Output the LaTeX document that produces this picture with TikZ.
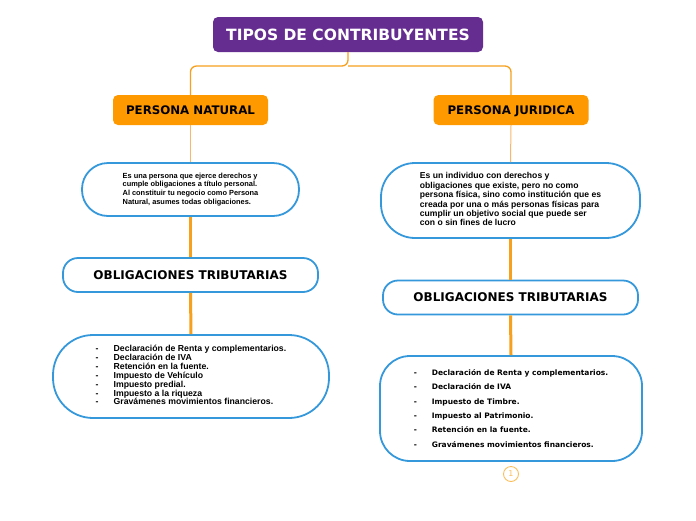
\documentclass[tikz,border=0pt]{standalone}
\usepackage{fontspec}
\setmainfont{Liberation Sans}
\newfontfamily\verd{DejaVu Sans}
\newfontfamily\ari{Liberation Sans}
\definecolor{titlepurple}{RGB}{102,45,145}
\definecolor{boxorange}{RGB}{255,153,0}
\definecolor{lineorange}{RGB}{247,160,30}
\definecolor{thinorange}{RGB}{245,185,110}
\definecolor{boxblue}{RGB}{52,152,219}
\definecolor{numorange}{RGB}{250,190,90}
\tikzset{
  titlebox/.style={fill=titlepurple, rounded corners=5pt, minimum width=270pt, minimum height=35pt, text=white, font=\verd\bfseries\fontsize{15.5}{18}\selectfont, inner sep=0pt, text height=11.4pt, text depth=0pt},
  typebox/.style={fill=boxorange, rounded corners=5pt, minimum width=155pt, minimum height=30pt, text=black, font=\verd\bfseries\fontsize{11.8}{14}\selectfont, inner sep=0pt, text height=8.7pt, text depth=0pt},
  obligbox/.style={draw=boxblue, line width=1.8pt, fill=white, rounded corners=15pt, minimum width=255pt, minimum height=34pt, font=\verd\bfseries\fontsize{12}{14}\selectfont, inner sep=0pt, text height=8.8pt, text depth=0pt},
  pill/.style={draw=boxblue, line width=1.8pt, fill=white, inner sep=0pt},
  thinline/.style={draw=thinorange, line width=1pt},
  thickline/.style={draw=lineorange, line width=3pt},
  branch/.style={draw=lineorange, line width=1.3pt, rounded corners=6pt}
}
\begin{document}
\begin{tikzpicture}[x=1pt,y=-1pt]
\useasboundingbox (0,0) rectangle (696,520);

\node[titlebox] (title) at (348,34.5) {TIPOS DE CONTRIBUYENTES};
\node[typebox] (pn) at (190.5,110) {PERSONA NATURAL};
\node[typebox] (pj) at (511,110) {PERSONA JURIDICA};

\node[pill, rounded corners=26pt, minimum width=217pt, minimum height=53pt] (d1) at (190.5,189.5)
  {\ari\bfseries\fontsize{7.4}{8.7}\selectfont\begin{tabular}{@{}l@{}}
  Es una persona que ejerce derechos y\\
  cumple obligaciones a título personal.\\
  Al constituir tu negocio como Persona\\
  Natural, asumes todas obligaciones.
  \end{tabular}};

\node[pill, rounded corners=34pt, minimum width=259pt, minimum height=75pt] (d2) at (510.5,200.5)
  {\ari\bfseries\fontsize{8.6}{9.4}\selectfont\begin{tabular}{@{}l@{}}
  Es un individuo con derechos y\\
  obligaciones que existe, pero no como\\
  persona física, sino como institución que es\\
  creada por una o más personas físicas para\\
  cumplir un objetivo social que puede ser\\
  con o sin fines de lucro
  \end{tabular}};

\node[obligbox] (o1) at (190.5,275) {OBLIGACIONES TRIBUTARIAS};
\node[obligbox] (o2) at (510.5,297.5) {OBLIGACIONES TRIBUTARIAS};

\node[pill, rounded corners=40pt, minimum width=276pt, minimum height=83pt] (l1) at (191,376.5)
  {\ari\bfseries\fontsize{8.7}{8.3}\selectfont\begin{tabular}{@{}l@{\hspace{15pt}}l@{}}
  -& Declaración de Renta y complementarios.\\
  -& Declaración de IVA\\
  -& Retención en la fuente.\\
  -& Impuesto de Vehículo\\
  -& Impuesto predial.\\
  -& Impuesto a la riqueza\\
  -& Gravámenes movimientos financieros.
  \end{tabular}};

\node[pill, rounded corners=30pt, minimum width=262pt, minimum height=105pt] (l2) at (511,408.5)
  {\verd\bfseries\fontsize{7.5}{14.4}\selectfont\begin{tabular}{@{}l@{\hspace{15pt}}l@{}}
  -& Declaración de Renta y complementarios.\\
  -& Declaración de IVA\\
  -& Impuesto de Timbre.\\
  -& Impuesto al Patrimonio.\\
  -& Retención en la fuente.\\
  -& Gravámenes movimientos financieros.
  \end{tabular}};

\node[draw=numorange, line width=0.9pt, circle, minimum size=15pt, inner sep=0pt, text=numorange, font=\verd\fontsize{8}{9}\selectfont] (num) at (511,474) {1};

\coordinate (bj) at (348,66);
\draw[branch] (title.south) -- (bj) -| (pn.north);
\draw[branch] (bj) -| (pj.north);
\draw[thinline] (pn.south) -- (d1.north);
\draw[thinline] (pj.south) -- (d2.north);
\draw[thickline] (d1.south) -- (o1.north);
\draw[thickline] (o1.south) -- (l1.north);
\draw[thickline] (d2.south) -- (o2.north);
\draw[thickline] (o2.south) -- (l2.north);
\end{tikzpicture}
\end{document}
